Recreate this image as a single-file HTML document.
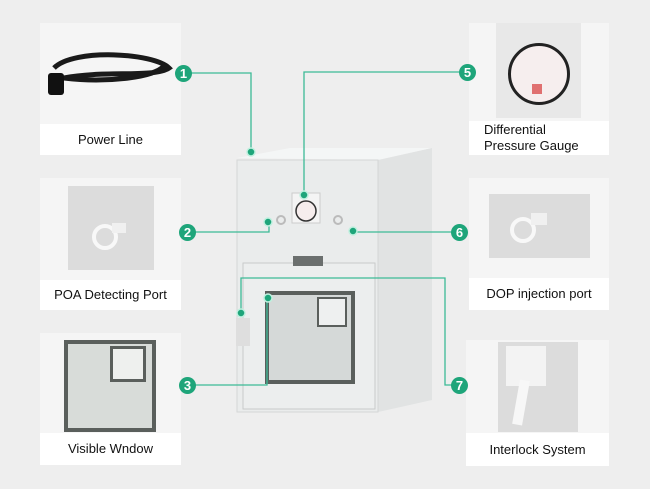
<!DOCTYPE html>
<html><head><style>
body{margin:0;width:650px;height:489px;background:#eeeeee;position:relative;overflow:hidden;font-family:"Liberation Sans",sans-serif;}
.p{position:absolute;background:#f5f5f5;}
.c{position:absolute;background:#fff;font-size:13px;color:#111;}
.b{position:absolute;width:17px;height:17px;border-radius:50%;background:#1ea57a;color:#fff;font-weight:bold;font-size:13px;text-align:center;line-height:17px;}
.im{position:absolute;background:#dcdcdc;}
</style></head><body>
<div class="p" style="left:40px;top:23px;width:141px;height:132px"></div>
<div class="c" style="left:40px;top:124px;width:141px;height:31px;line-height:31px;text-align:center">Power Line</div>
<svg style="position:absolute;left:44px;top:48px" width="135" height="55"><path d="M10 20 C30 0 110 5 125 20 C110 30 60 22 20 30 C60 35 110 30 120 18" stroke="#1a1a1a" stroke-width="5" fill="none"/><rect x="4" y="25" width="16" height="22" rx="3" fill="#111"/></svg>

<div class="p" style="left:40px;top:178px;width:141px;height:132px"></div>
<div class="im" style="left:68px;top:186px;width:86px;height:84px"></div>
<svg style="position:absolute;left:90px;top:215px" width="50" height="40"><circle cx="15" cy="22" r="11" stroke="#f8f8f8" stroke-width="4" fill="none"/><rect x="22" y="8" width="14" height="10" fill="#f0f0f0"/></svg>
<div class="c" style="left:40px;top:280px;width:141px;height:30px;line-height:30px;text-align:center">POA Detecting Port</div>

<div class="p" style="left:40px;top:333px;width:141px;height:132px"></div>
<div style="position:absolute;left:64px;top:340px;width:84px;height:84px;border:4px solid #5a5f5c;background:#d8dcd9"></div>
<div style="position:absolute;left:110px;top:346px;width:30px;height:30px;border:3px solid #5a5f5c;background:#eef0ee"></div>
<div class="c" style="left:40px;top:433px;width:141px;height:32px;line-height:32px;text-align:center">Visible Wndow</div>

<div class="p" style="left:469px;top:23px;width:140px;height:132px"></div>
<div class="im" style="left:496px;top:23px;width:85px;height:95px;background:#e8e8e8"></div>
<div style="position:absolute;left:508px;top:43px;width:56px;height:56px;border-radius:50%;border:3px solid #222;background:#f6eeee"></div>
<div style="position:absolute;left:532px;top:84px;width:10px;height:10px;background:#e07070"></div>
<div class="c" style="left:469px;top:121px;width:140px;height:34px;line-height:16px;padding-left:15px;box-sizing:border-box;padding-top:1px">Differential<br>Pressure Gauge</div>

<div class="p" style="left:469px;top:178px;width:140px;height:132px"></div>
<div class="im" style="left:489px;top:194px;width:101px;height:64px"></div>
<svg style="position:absolute;left:505px;top:205px" width="60" height="45"><circle cx="18" cy="25" r="11" stroke="#f8f8f8" stroke-width="4" fill="none"/><rect x="26" y="8" width="16" height="12" fill="#f0f0f0"/></svg>
<div class="c" style="left:469px;top:278px;width:140px;height:32px;line-height:32px;text-align:center">DOP injection port</div>

<div class="p" style="left:466px;top:340px;width:143px;height:126px"></div>
<div class="im" style="left:498px;top:342px;width:80px;height:90px"></div>
<div style="position:absolute;left:506px;top:346px;width:40px;height:40px;background:#f3f3f3"></div>
<div style="position:absolute;left:516px;top:380px;width:10px;height:45px;background:#f7f7f7;transform:rotate(10deg)"></div>
<div class="c" style="left:466px;top:433px;width:143px;height:33px;line-height:33px;text-align:center">Interlock System</div>

<svg style="position:absolute;left:0;top:0" width="650" height="489">
<polygon points="237,158 290,148 432,148 378,160" fill="#f4f6f6"/>
<polygon points="378,160 432,148 432,400 378,412" fill="#e1e3e3"/>
<rect x="237" y="160" width="141" height="252" fill="#eaecec" stroke="#d4d6d6"/>
<rect x="243" y="263" width="132" height="146" fill="#eceeee" stroke="#c8caca"/>
<rect x="293" y="256" width="30" height="10" fill="#6b6f6e"/>
<rect x="265" y="291" width="90" height="93" fill="#5a5f5c"/>
<rect x="269" y="295" width="82" height="85" fill="#d5d9d8"/>
<rect x="318" y="298" width="28" height="28" fill="#eef0f0" stroke="#5a5f5c" stroke-width="2"/>
<rect x="292" y="193" width="28" height="30" fill="#f4f4f4" stroke="#ccc"/>
<circle cx="306" cy="211" r="10" fill="#f6eded" stroke="#333" stroke-width="1.5"/>
<circle cx="281" cy="220" r="4" fill="none" stroke="#bbb" stroke-width="2"/>
<circle cx="338" cy="220" r="4" fill="none" stroke="#bbb" stroke-width="2"/>
<rect x="236" y="318" width="14" height="28" fill="#dedede"/>
<g stroke="#3cba96" stroke-width="1.3" fill="none">
<polyline points="191,73 251,73 251,150"/>
<polyline points="459,72 304,72 304,195"/>
<polyline points="195,232 269,232 269,222"/>
<polyline points="451,232 353,232"/>
<polyline points="195,385 267,385 267,298"/>
<polyline points="459,385 445,385 445,278 241,278 241,312"/>
</g>
<g fill="#1ea57a" stroke="#bff0df" stroke-width="1.5">
<circle cx="251" cy="152" r="4"/><circle cx="304" cy="195" r="4"/><circle cx="268" cy="222" r="4"/>
<circle cx="353" cy="231" r="4"/><circle cx="268" cy="298" r="4"/><circle cx="241" cy="313" r="4"/>
</g>
</svg>
<div class="b" style="left:175px;top:65px">1</div>
<div class="b" style="left:179px;top:224px">2</div>
<div class="b" style="left:179px;top:377px">3</div>
<div class="b" style="left:459px;top:64px">5</div>
<div class="b" style="left:451px;top:224px">6</div>
<div class="b" style="left:451px;top:377px">7</div>
</body></html>
